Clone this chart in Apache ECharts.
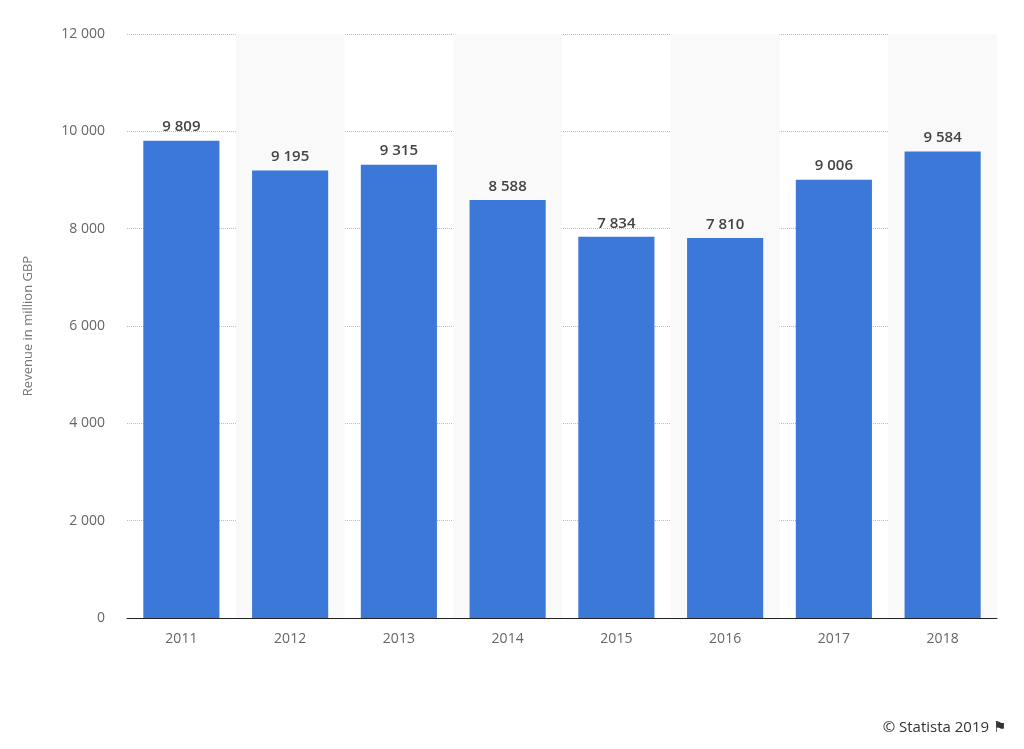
<!DOCTYPE html>
<html>
<head>
<meta charset="utf-8">
<script src="https://cdn.jsdelivr.net/npm/echarts@6/dist/echarts.min.js"></script>
<style>
  html, body { margin: 0; padding: 0; background: #fff; }
  #chart { width: 1024px; height: 749px; }
</style>
</head>
<body>
<div id="chart"></div>
<script>
// data
var years = ['2011', '2012', '2013', '2014', '2015', '2016', '2017', '2018'];
var revenue = [9809, 9195, 9315, 8588, 7834, 7810, 9006, 9584];
var yTicks = [0, 2000, 4000, 6000, 8000, 10000, 12000];

function fmt(v) {
  return String(v).replace(/\B(?=(\d{3})+(?!\d))/g, ' ');
}

var myChart = echarts.init(document.getElementById('chart'));
myChart.setOption({
  animation: false,
  grid: { left: 127, right: 27, top: 34, bottom: 131 },
  xAxis: {
    type: 'category',
    data: years,
    axisTick: { show: false },
    axisLine: { lineStyle: { color: '#222', width: 1 } },
    axisLabel: { color: '#666', fontSize: 14, margin: 14, fontFamily: 'Open Sans' },
    splitArea: { show: true, areaStyle: { color: ['rgba(0,0,0,0)', '#f9f9f9'] } }
  },
  yAxis: {
    type: 'value',
    min: yTicks[0],
    max: yTicks[yTicks.length - 1],
    interval: 2000,
    name: 'Revenue in million GBP',
    nameLocation: 'middle',
    nameGap: 92,
    nameTextStyle: { color: '#777', fontSize: 13, fontFamily: 'Open Sans' },
    axisLine: { show: false },
    axisTick: { show: false },
    axisLabel: { color: '#666', fontSize: 14, margin: 22, fontFamily: 'Open Sans', formatter: fmt },
    splitLine: { lineStyle: { color: '#bbb', type: 'dotted' } }
  },
  series: [{
    type: 'bar',
    data: revenue,
    barWidth: '70%',
    itemStyle: { color: '#3c78d8' },
    label: {
      show: true,
      position: 'top',
      distance: 6,
      color: '#444',
      fontSize: 15,
      fontWeight: 600,
      fontFamily: 'Open Sans',
      formatter: function (p) { return fmt(p.value); }
    }
  }],
  graphic: [{
    type: 'text',
    right: 18,
    bottom: 14,
    style: { text: '© Statista 2019 ⚑', fill: '#333', fontSize: 15, fontFamily: 'Open Sans' }
  }]
});
</script>
</body>
</html>
